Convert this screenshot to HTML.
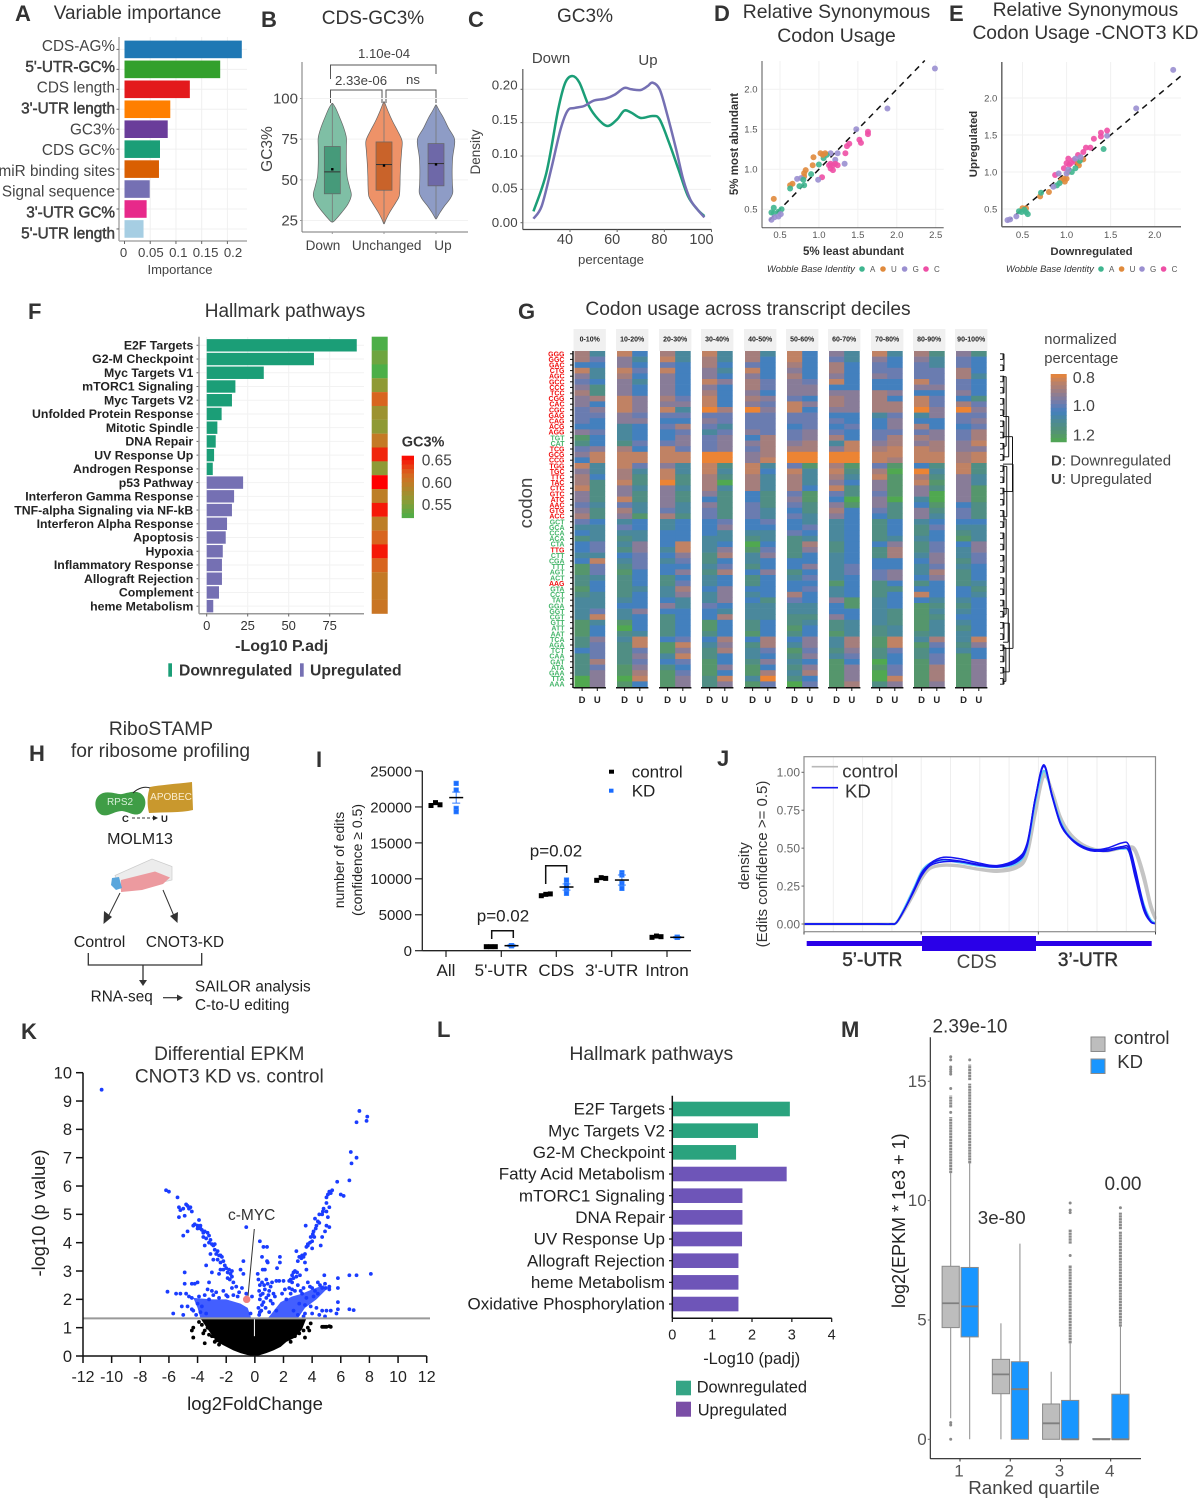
<!DOCTYPE html>
<html lang="en">
<head>
<meta charset="utf-8">
<title>CNOT3 codon usage multi-panel figure</title>
<style>
html,body{margin:0;padding:0;background:#fff;}
#figure{display:block;width:1200px;height:1501px;filter:blur(.35px);}
#figure text{font-family:"Liberation Sans",sans-serif;fill:#333;}
.letter{font-size:22px;font-weight:bold;fill:#333;}
.title{font-size:19px;fill:#444;text-anchor:middle;}
.mid{text-anchor:middle;}
.fb{stroke:#333;stroke-width:.45;}
</style>
</head>
<body>
<svg id="figure" xmlns="http://www.w3.org/2000/svg" width="1200" height="1501" viewBox="0 0 1200 1501">
<rect x="0" y="0" width="1200" height="1501" fill="#fff"/>

<g id="pA">
<text class="letter" x="15" y="21">A</text>
<text class="title" x="137.5" y="19">Variable importance</text>
<text class="mid" x="180" y="274" font-size="13" style="fill:#444">Importance</text>
</g>

<g id="pB">
<text class="letter" x="261" y="27">B</text>
<text class="title" x="373" y="24">CDS-GC3%</text>
<text class="mid" x="0" y="0" font-size="15.5" transform="translate(272,149) rotate(-90)" style="fill:#444">GC3%</text>
<text class="mid" x="384" y="58" font-size="13.2" style="fill:#444">1.10e-04</text>
<text class="mid" x="361" y="85" font-size="13.2" style="fill:#444">2.33e-06</text>
<text class="mid" x="413" y="84" font-size="13.2" style="fill:#444">ns</text>
<path d="M330.5 79V65H436V74M330.5 103V90H382V103M386 103V90H436V103" fill="none" stroke="#555" stroke-width="1"/>
</g>

<g id="pC">
<text class="letter" x="468" y="27">C</text>
<text class="title" x="585" y="22">GC3%</text>
<text class="mid" x="551" y="63" font-size="15" style="fill:#444">Down</text>
<text class="mid" x="648" y="65" font-size="15" style="fill:#444">Up</text>
<text class="mid" x="0" y="0" font-size="13.5" transform="translate(480,152) rotate(-90)" style="fill:#444">Density</text>
<text class="mid" x="611" y="264" font-size="13.2" style="fill:#444">percentage</text>
</g>

<g id="pD">
<text class="letter" x="714" y="21">D</text>
<text class="title" x="836.5" y="18" style="font-size:19.4px">Relative Synonymous</text>
<text class="title" x="836.5" y="42" style="font-size:19.4px">Codon Usage</text>
<text class="mid" x="853.5" y="255" font-size="11.5" font-weight="bold">5% least abundant</text>
<text class="mid" x="0" y="0" font-size="11.5" font-weight="bold" transform="translate(738,144) rotate(-90)">5% most abundant</text>
<text x="767" y="272" font-size="9.3" font-style="italic">Wobble Base Identity</text>
</g>

<g id="pE">
<text class="letter" x="949" y="21">E</text>
<text class="title" x="1085.5" y="16" style="font-size:19.2px">Relative Synonymous</text>
<text class="title" x="1085.5" y="39" style="font-size:19.2px">Codon Usage -CNOT3 KD</text>
<text class="mid" x="1091.5" y="255" font-size="11.4" font-weight="bold">Downregulated</text>
<text class="mid" x="0" y="0" font-size="11.4" font-weight="bold" transform="translate(977,144) rotate(-90)">Upregulated</text>
<text x="1006" y="272" font-size="9.3" font-style="italic">Wobble Base Identity</text>
</g>

<g id="pF">
<text class="letter" x="28" y="319">F</text>
<text class="title" x="285" y="317">Hallmark pathways</text>
<text class="mid" x="281.7" y="651" font-size="16" font-weight="bold">-Log10 P.adj</text>
<rect x="168.3" y="663.3" width="3.7" height="13.4" fill="#1b9e77"/>
<text x="179" y="675.7" font-size="15.7" font-weight="bold">Downregulated</text>
<rect x="300" y="663.3" width="3.7" height="13.4" fill="#7570b3"/>
<text x="310" y="675.7" font-size="15.7" font-weight="bold">Upregulated</text>
<text x="401.7" y="446.7" font-size="14.5" font-weight="bold">GC3%</text>
</g>

<g id="pG">
<text class="letter" x="518" y="319">G</text>
<text class="title" x="748" y="315" style="font-size:19.2px">Codon usage across transcript deciles</text>
<text class="mid" x="0" y="0" font-size="18.6" transform="translate(532,503) rotate(-90)" style="fill:#444">codon</text>
<text x="1044.3" y="344" font-size="14.8" style="fill:#444">normalized</text>
<text x="1044.3" y="363" font-size="14.8" style="fill:#444">percentage</text>
<text x="1051" y="465.7" font-size="15" style="fill:#444"><tspan font-weight="bold">D</tspan>: Downregulated</text>
<text x="1051" y="484" font-size="15" style="fill:#444"><tspan font-weight="bold">U</tspan>: Upregulated</text>
</g>

<g id="pH">
<text class="letter" x="29" y="761">H</text>
<text class="title" x="161" y="735" style="font-size:19.2px">RiboSTAMP</text>
<text class="title" x="160.5" y="757" style="font-size:19.2px">for ribosome profiling</text>
<path d="M103 793C111 791 118 795 122 794C128 793 134 790 140 793C147 797 147 807 141 813C135 817 130 812 122 811C114 811 109 817 102 815C94 812 92 797 103 793Z" fill="#3f9d46"/>
<text class="mid" x="120" y="805" font-size="10" style="fill:#d8f0d8">RPS2</text>
<path d="M150 787C160 785 175 784 192 782L193 810C180 813 165 812 149 813C147 805 147 795 150 787Z" fill="#c9982d"/>
<text class="mid" x="171" y="800" font-size="10" style="fill:#fbeed0">APOBEC</text>
<path d="M133 793C138 788 145 786 150 788" fill="none" stroke="#222" stroke-width="1"/>
<text x="122" y="822" font-size="9.5" font-weight="bold" style="fill:#222">C</text>
<path d="M132 818H155" stroke="#333" stroke-dasharray="3 2" fill="none"/>
<path d="M153 815.5L158 818L153 820.5Z" fill="#222"/>
<text x="161" y="822" font-size="9.5" font-weight="bold" style="fill:#222">U</text>
<text class="mid" x="140" y="844" font-size="16" style="fill:#222">MOLM13</text>
<path d="M115 875.5L152 859L172 866.5V880L122 891.5Z" fill="#ececec" stroke="#ccc" stroke-width=".7"/>
<path d="M121 880L155 871.5L170 877.5L163 884L142 890L121 892Z" fill="#ec9a9f"/>
<path d="M112 878L119 877L122 888L116 890L111 885Z" fill="#5aa6dc"/>
<path d="M120 893L108 917M163 890L174 916" stroke="#333" stroke-width="1" fill="none"/>
<path d="M103.5 924L112 917L104 911ZM177.5 923L178 912L170 916Z" fill="#333"/>
<text class="mid" x="99.5" y="947" font-size="16" style="fill:#222">Control</text>
<text class="mid" x="185" y="947" font-size="15.3" style="fill:#222">CNOT3-KD</text>
<path d="M88.3 953V965H201.7V953M143 965V982" stroke="#333" stroke-width="1.3" fill="none"/>
<path d="M139 980H147L143 986Z" fill="#333"/>
<text class="mid" x="121.7" y="1001.7" font-size="15.3" style="fill:#222">RNA-seq</text>
<path d="M163 997.7H178" stroke="#333" stroke-width="1.2" fill="none"/>
<path d="M177 994.5L183 997.7L177 1001Z" fill="#333"/>
<text x="195" y="991.7" font-size="15.3" style="fill:#222">SAILOR analysis</text>
<text x="195" y="1010" font-size="15.3" style="fill:#222">C-to-U editing</text>
</g>

<g id="pI">
<text class="letter" x="316" y="767">I</text>
<text class="mid" x="0" y="0" font-size="14" style="fill:#222" transform="translate(344,860) rotate(-90)">number of edits</text>
<text class="mid" x="0" y="0" font-size="14" style="fill:#222" transform="translate(362,860) rotate(-90)">(confidence ≥ 0.5)</text>
<text class="mid" x="503" y="921.7" font-size="17" style="fill:#222">p=0.02</text>
<text class="mid" x="556" y="856.7" font-size="17" style="fill:#222">p=0.02</text>
<path d="M491.7 939V930.7H513.3V938M545.7 884V865.7H566.7V873" fill="none" stroke="#111" stroke-width="1.5"/>
<rect x="609" y="769.7" width="5" height="4" fill="#000"/>
<text x="631.7" y="777.7" font-size="17" style="fill:#222">control</text>
<rect x="609" y="788.7" width="4.5" height="4" fill="#1a6cff"/>
<text x="631.7" y="796.7" font-size="17" style="fill:#222">KD</text>
</g>

<g id="pJ">
<text class="letter" x="717" y="766">J</text>
<text class="mid" x="0" y="0" font-size="15" style="fill:#333" transform="translate(749,866) rotate(-90)">density</text>
<text class="mid" x="0" y="0" font-size="15" style="fill:#333" transform="translate(767,864) rotate(-90)">(Edits confidence &gt;= 0.5)</text>
<rect x="806.7" y="941" width="345" height="5" fill="#2a00e8"/>
<rect x="922" y="936" width="114" height="15" fill="#2a00e8"/>
<text class="mid fb" x="872.3" y="966" font-size="19">5’-UTR</text>
<text class="mid" x="976.7" y="968" font-size="19" style="fill:#444">CDS</text>
<text class="mid fb" x="1088" y="966" font-size="19">3’-UTR</text>
</g>

<g id="pK">
<text class="letter" x="21" y="1039">K</text>
<text class="title" x="229.3" y="1060" style="font-size:19.1px">Differential EPKM</text>
<text class="title" x="229.3" y="1082.3" style="font-size:19.1px">CNOT3 KD vs. control</text>
<text class="mid" x="0" y="0" font-size="18.3" style="fill:#222" transform="translate(45,1213) rotate(-90)">-log10 (p value)</text>
<text class="mid" x="255" y="1410" font-size="18.5" style="fill:#222">log2FoldChange</text>
</g>

<g id="pL">
<text class="letter" x="437" y="1037">L</text>
<text class="title" x="651.3" y="1060" style="font-size:19.4px">Hallmark pathways</text>
<text class="mid" x="751.7" y="1364" font-size="16.3" style="fill:#222">-Log10 (padj)</text>
<rect x="676" y="1380.7" width="15" height="14.6" fill="#35a585"/>
<text x="696.7" y="1392.7" font-size="16.4" style="fill:#222">Downregulated</text>
<rect x="676" y="1401.7" width="15" height="15" fill="#7a4ea6"/>
<text x="697.7" y="1415.7" font-size="16.4" style="fill:#222">Upregulated</text>
</g>

<g id="pM">
<text class="letter" x="841" y="1037">M</text>
<text class="mid" x="970" y="1032.7" font-size="19" style="fill:#333">2.39e-10</text>
<text class="mid" x="1001.7" y="1224" font-size="18.7" style="fill:#333">3e-80</text>
<text class="mid" x="1123" y="1190" font-size="19" style="fill:#333">0.00</text>
<rect x="1091" y="1037" width="14" height="14.5" fill="#bdbdbd" stroke="#8a8a8a"/>
<text x="1114" y="1044" font-size="18.5" style="fill:#333">control</text>
<rect x="1091" y="1059" width="14" height="14.5" fill="#1996ff" stroke="#8a8a8a"/>
<text x="1117.3" y="1068" font-size="18.5" style="fill:#333">KD</text>
<text class="mid" x="0" y="0" font-size="18" style="fill:#222" transform="translate(905,1220.7) rotate(-90)">log2(EPKM * 1e3 + 1)</text>
<text class="mid" x="1034" y="1494" font-size="18.8" style="fill:#444">Ranked quartile</text>
</g>
</svg>

<script>
/* ---------- Panel A data ---------- */
const importanceLabels = ["CDS-AG%","5'-UTR-GC%","CDS length","3'-UTR length","GC3%","CDS GC%","miR binding sites","Signal sequence","3'-UTR GC%","5'-UTR length"];
const importanceValues = [0.228,0.186,0.127,0.089,0.084,0.069,0.067,0.049,0.043,0.037];
const importanceEmphasis = [0,1,0,1,0,0,0,0,1,1];
const importanceColors = ["#1f78b4","#33a02c","#e31a1c","#ff7f00","#6a3d9a","#1b9e77","#d95f02","#7570b3","#e7298a","#a6cee3"];
const importanceTicks = [0,0.05,0.1,0.15,0.2];

/* ---------- Panel B data ---------- */
const violinGroups = ["Down","Unchanged","Up"];
const violinLevelsDown = [24,25,30,35,40.5,46,52,60,70,76,82,88,94,97];
const violinDensityDown = [0.02,0.13,0.5,0.82,1,0.9,0.78,0.74,0.74,0.74,0.6,0.4,0.18,0.02];
const violinLevelsUnchanged = [23,26,30,36,40,46,52,60,68,74,80,86,92,98];
const violinDensityUnchanged = [0.02,0.12,0.3,0.62,0.8,0.84,0.85,0.88,0.93,0.95,0.72,0.45,0.22,0.02];
const violinLevelsUp = [26,30,34,38,42,48,56,64,72,76,82,88,92,96];
const violinDensityUp = [0.02,0.22,0.45,0.72,0.88,0.86,0.85,0.88,0.98,0.95,0.65,0.4,0.2,0.02];
const boxQ1 = [41.4,43.6,46.3];
const boxMedian = [54.9,59.4,60];
const boxQ3 = [70.5,73.3,72.3];
const boxMean = [56.5,58.8,59.5];
const gc3Ticks = [25,50,75,100];

/* ---------- Panel C data ---------- */
const densityDownX = [24.5,30,35,38,41,44,48,52,56,60,63,66,70,75,78,82,86,90,94,97];
const densityDownY = [0.017,0.075,0.17,0.21,0.22,0.21,0.175,0.155,0.145,0.155,0.168,0.165,0.157,0.16,0.155,0.12,0.08,0.04,0.02,0.01];
const densityUpX = [24.5,28,32,36,39,42,46,50,55,59,63,66,70,73,75,78,81,85,88,91,94,97];
const densityUpY = [0.006,0.025,0.08,0.14,0.168,0.172,0.175,0.183,0.186,0.192,0.202,0.2,0.199,0.205,0.21,0.2,0.165,0.11,0.065,0.035,0.02,0.008];
const densityXTicks = [40,60,80,100];
const densityYTicks = [0,0.05,0.1,0.15,0.2];

/* ---------- Panel D / E data ---------- */
const wobbleBases = ["A","U","G","C"];
const scatterTicksD = [0.5,1,1.5,2,2.5];
const scatterTicksDY = [0.5,1,1.5,2];
const scatterTicksE = [0.5,1,1.5,2];
const rscuLeast = [[2.49,2.26,"G"],[1.88,1.76,"G"],[1.48,1.5,"G"],[1.63,1.47,"C"],[1.63,1.44,"C"],[1.52,1.37,"C"],[1.54,1.33,"C"],[1.39,1.32,"C"],[1.36,1.29,"C"],[1.34,1.2,"C"],[1.33,1.07,"G"],[1.24,1.2,"G"],[1.15,1.2,"G"],[1.21,1.12,"G"],[1.15,1.07,"C"],[1.18,1.05,"C"],[1.21,1.07,"C"],[1.15,1.01,"C"],[1.18,0.99,"C"],[1.24,1.05,"C"],[1.13,1.05,"C"],[1.04,0.9,"C"],[0.99,0.87,"G"],[0.9,0.94,"A"],[1,1.06,"A"],[1.06,1.14,"A"],[1.1,1.18,"A"],[0.93,1.15,"U"],[1.02,1.2,"U"],[1.05,1.18,"U"],[1.08,1.2,"U"],[0.92,1.05,"U"],[0.83,0.99,"U"],[0.81,0.95,"U"],[0.81,0.91,"U"],[0.63,0.8,"U"],[0.66,0.82,"U"],[0.42,0.63,"U"],[0.72,0.88,"G"],[0.77,0.89,"G"],[0.8,0.87,"A"],[0.75,0.79,"A"],[0.81,0.8,"A"],[0.63,0.76,"A"],[0.42,0.52,"A"],[0.39,0.46,"A"],[0.42,0.45,"A"],[0.52,0.5,"A"],[0.48,0.47,"A"],[0.39,0.37,"G"],[0.43,0.4,"G"],[0.51,0.44,"G"],[0.48,0.41,"G"]];
const rscuDown = [[2.21,2.38,"G"],[1.79,1.86,"G"],[1.46,1.49,"G"],[1.42,1.31,"A"],[1.46,1.56,"C"],[1.39,1.53,"C"],[1.39,1.48,"C"],[1.31,1.45,"C"],[1.27,1.33,"C"],[1.22,1.33,"C"],[1.19,1.27,"C"],[1.13,1.23,"C"],[1.02,1.18,"C"],[1.08,1.16,"C"],[1,1.12,"C"],[1.05,1.12,"C"],[0.97,1.05,"C"],[0.87,0.96,"C"],[1.1,1.14,"C"],[1.03,1.1,"C"],[1.19,1.17,"U"],[1.13,1.12,"U"],[1.14,1.09,"U"],[0.97,0.91,"U"],[1,0.91,"U"],[0.94,0.89,"U"],[0.98,0.87,"U"],[0.8,0.73,"U"],[0.7,0.67,"U"],[0.5,0.51,"U"],[0.54,0.51,"U"],[1.02,1,"U"],[1.1,1.05,"A"],[0.92,0.85,"A"],[0.89,0.82,"A"],[0.71,0.72,"A"],[0.52,0.49,"A"],[0.49,0.46,"A"],[0.54,0.46,"A"],[0.56,0.43,"A"],[0.46,0.47,"A"],[1.15,1.15,"A"],[1.06,1.0,"A"],[0.91,0.98,"G"],[1.02,1.03,"G"],[1.1,1.18,"G"],[1.16,1.2,"G"],[0.85,0.8,"G"],[0.36,0.36,"G"],[0.43,0.4,"G"],[0.33,0.35,"G"],[1.0,0.98,"G"]];

/* ---------- Panel F data ---------- */
const hallmarkLabels = ["E2F Targets","G2-M Checkpoint","Myc Targets V1","mTORC1 Signaling","Myc Targets V2","Unfolded Protein Response","Mitotic Spindle","DNA Repair","UV Response Up","Androgen Response","p53 Pathway","Interferon Gamma Response","TNF-alpha Signaling via NF-kB","Interferon Alpha Response","Apoptosis","Hypoxia","Inflammatory Response","Allograft Rejection","Complement","heme Metabolism"];
const hallmarkValues = [91.5,65.4,34.8,17.5,15.4,9.1,6.5,5.5,4.5,3.7,22.2,16.7,15.4,12.4,11.6,9.8,9.3,9.3,7.5,4];
const hallmarkGroup = ["D","D","D","D","D","D","D","D","D","D","U","U","U","U","U","U","U","U","U","U"];
const hallmarkGC3 = [0.52,0.54,0.52,0.56,0.62,0.57,0.56,0.60,0.645,0.56,0.66,0.595,0.65,0.595,0.62,0.65,0.62,0.60,0.60,0.605];
const hallmarkTicks = [0,25,50,75];
const gc3LegendTicks = [0.65,0.60,0.55];

/* ---------- Panel G data ---------- */
const codons = ["GGG","GGC","GAC","CTG","AGC","GCC","CCC","TCC","CGG","CAC","CGC","GAG","CAG","ACG","AGG","TGT","CAT","TCG","GCG","CCG","TGG","TGC","TTC","TAC","CTC","GTC","ATC","AAC","GTG","ACC","GCT","GCA","CCA","ACA","CTA","TTG","CTT","CGA","TTT","AGT","ACT","AAG","GTA","CCT","TAT","GGA","GGT","CGT","GTT","ATT","AAT","TCA","AGA","TCT","CAA","GAT","ATA","GAA","TTA","AAA"];
const codonIsGC = [1,1,1,1,1,1,1,1,1,1,1,1,1,1,1,0,0,1,1,1,1,1,1,1,1,1,1,1,1,1,0,0,0,0,0,1,0,0,0,0,0,1,0,0,0,0,0,0,0,0,0,0,0,0,0,0,0,0,0,0];
const deciles = ["0-10%","10-20%","20-30%","30-40%","40-50%","50-60%","60-70%","70-80%","80-90%","90-100%"];
const heatDown = [
[2,2,5,1,3,4,3,2,3,3,4,4,4,5,3,8,7,4,3,5,1,3,2,2,1,3,3,4,3,2,4,6,5,7,5,5,6,5,8,8,7,7,8,7,6,6,6,6,8,8,8,7,7,5,7,7,7,7,9,9],
[1,3,3,1,2,3,3,3,1,1,1,3,3,6,6,6,7,2,1,1,1,2,2,1,3,3,1,4,2,3,6,4,6,7,6,7,5,6,7,8,7,7,7,7,6,5,6,6,8,9,7,6,7,7,7,7,8,8,9,8],
[2,1,4,1,3,3,3,3,2,3,1,4,5,4,5,5,4,1,1,1,3,1,1,0,3,3,3,3,4,2,6,6,5,5,5,6,5,6,5,5,7,7,6,6,5,3,5,7,7,7,7,5,8,8,6,5,7,8,8,8],
[1,2,2,3,3,1,3,2,1,1,0,4,3,4,6,4,4,4,0,0,1,1,2,2,2,3,5,3,4,4,5,5,5,6,6,6,7,7,6,7,6,6,5,6,6,4,5,5,8,8,7,5,6,7,7,8,8,8,7,7],
[2,2,4,1,3,2,2,3,2,3,0,4,4,4,3,5,3,4,3,3,1,1,2,2,2,5,5,4,4,4,5,5,6,7,9,8,6,6,7,5,7,7,5,6,5,6,6,6,7,7,8,5,7,6,6,7,8,8,6,8],
[1,1,2,3,2,3,3,3,4,1,1,4,4,5,4,4,3,2,0,0,4,1,2,2,2,4,3,4,5,4,5,5,4,7,7,7,7,5,5,7,6,5,5,2,4,6,6,7,7,8,7,5,6,8,7,6,7,6,7,9],
[3,4,2,2,3,1,5,3,2,2,3,5,4,5,4,2,6,3,0,0,2,1,2,3,1,4,5,3,2,3,6,6,6,6,7,7,6,6,6,6,6,8,6,6,3,5,5,3,7,7,8,6,6,7,6,8,8,8,8,8],
[1,3,4,4,3,5,5,2,2,2,2,6,5,5,4,4,3,2,1,1,4,2,1,3,3,4,3,3,4,5,7,7,7,7,5,7,7,5,5,4,4,7,7,7,6,6,6,6,6,7,7,8,8,7,7,9,8,9,9,7],
[2,3,4,4,4,1,3,5,1,1,0,6,5,2,4,2,3,1,1,1,5,0,2,1,3,3,6,5,3,3,6,7,7,6,7,7,6,5,6,6,5,7,5,1,5,8,8,8,8,8,7,6,8,7,7,8,8,8,8,8],
[3,4,4,2,2,4,4,3,5,2,0,4,4,5,4,4,3,3,2,2,1,1,3,3,3,3,3,5,4,4,5,6,7,8,5,6,6,7,6,7,7,7,5,5,6,7,6,5,6,7,6,6,7,6,8,8,8,8,8,8]
];
const heatUp = [
[6,4,5,6,6,5,7,7,2,5,3,4,5,5,4,5,5,3,1,1,6,6,5,7,7,7,7,6,7,7,5,6,6,6,4,4,6,1,4,4,6,5,5,6,6,6,4,1,6,5,5,3,4,4,4,2,4,3,3,3],
[5,6,5,4,5,6,5,5,3,3,3,4,3,5,5,5,4,5,1,1,4,6,7,7,6,7,7,6,6,8,5,5,6,6,3,3,4,4,4,5,5,5,6,5,5,5,3,5,5,5,6,1,1,4,3,4,3,2,1,5],
[6,6,5,5,5,5,5,5,4,3,6,4,5,2,4,3,3,4,1,1,6,6,7,7,6,7,7,6,6,7,5,5,5,5,1,1,3,4,5,3,5,4,2,3,6,6,5,5,5,5,5,4,1,3,1,4,5,4,3,3],
[6,6,5,6,5,3,5,5,5,5,2,4,4,6,4,3,3,3,0,0,7,6,7,9,6,7,7,7,7,7,4,3,6,6,5,3,2,5,4,2,5,5,3,3,3,5,6,2,5,5,5,2,3,2,5,5,3,5,1,3],
[6,5,5,5,5,4,4,5,3,4,3,4,4,4,4,2,2,2,2,1,6,5,6,6,6,7,7,7,6,6,4,5,6,6,5,4,3,5,5,3,5,5,5,5,7,6,6,6,5,5,5,2,2,4,5,3,5,2,0,4],
[5,5,5,5,5,4,3,3,5,3,5,4,4,4,3,3,2,2,0,0,8,6,6,6,5,8,8,7,7,6,6,4,5,6,2,3,5,5,3,5,4,5,4,5,5,6,6,7,6,5,5,3,3,4,3,5,3,2,5,4],
[6,6,5,5,5,5,5,3,3,3,3,5,5,4,5,5,1,1,0,0,8,7,6,5,7,7,9,8,5,5,5,5,5,5,5,5,5,5,4,4,5,5,5,5,8,8,5,5,6,6,6,2,2,3,4,5,3,3,3,2],
[6,5,5,4,4,5,5,3,5,2,2,4,3,3,4,2,2,1,1,2,8,9,8,8,8,8,9,7,7,7,5,5,5,6,3,2,2,5,5,3,3,5,7,5,5,5,7,7,7,6,6,1,1,4,5,5,4,4,1,3],
[7,6,6,4,4,4,3,5,4,4,3,3,5,5,3,3,2,2,1,1,7,6,7,8,7,9,9,8,7,6,5,4,5,5,4,4,3,3,4,2,3,5,5,5,6,7,6,7,6,6,6,2,4,5,4,4,2,2,2,3],
[7,5,5,5,6,5,5,5,7,4,3,4,3,4,2,2,1,3,1,1,7,7,6,6,8,8,8,7,7,7,5,6,6,6,3,3,4,4,5,5,5,6,7,6,5,5,5,5,5,5,5,1,3,5,5,3,3,3,3,3]
];
const heatLegendTicks = ["0.8","1.0","1.2"];
/* dendrogram merges: row span joined at a tree depth */
const dendroMerges = [[0.5,3.5,0.1],[4.5,7.5,0.1],[8.5,11.5,0.1],[12.5,15.5,0.1],[16.5,19.5,0.1],[20.5,23.5,0.1],[24.5,27.5,0.1],[28.5,31.5,0.1],[32.5,35.5,0.1],[36.5,39.5,0.1],[40.5,43.5,0.1],[44.5,47.5,0.1],[48.5,51.5,0.1],[52.5,55.5,0.1],[56.5,59.5,0.1],[4.6,17,0.33],[11.7,18.9,0.6],[15.3,25.1,1],[20.6,29.6,0.4],[20.2,53.1,1.05],[30,47,0.33],[46,52,0.55],[48.6,57.3,0.66],[53,59,0.3]];

/* ---------- Panel I data ---------- */
const editCategories = ["All","5'-UTR","CDS","3'-UTR","Intron"];
const editControl = [[20200,20600,20300],[560,560,560],[7650,7840,7900],[9790,10160,10060],[1860,2040,1950]];
const editKD = [[23280,22350,19800,19340],[700,700,700],[9830,9140,8440,7980],[10850,10530,9370,8670],[1860,1860,1860]];
const editKDMean = [21300,700,8860,9830,1860];
const editKDSem = [770,120,430,700,100];
const editControlMean = [20380,560,7800,10000,1950];
const editTicks = [0,5000,10000,15000,20000,25000];

/* ---------- Panel J data ---------- */
const metaPos = [0,0.62,0.74,0.79,0.86,0.94,1.006,1.077,1.19,1.33,1.476,1.647,1.818,1.903,1.974,2.046,2.117,2.188,2.259,2.359,2.473,2.587,2.715,2.772,2.829,2.9,2.957,3];
const metaControlA = [0,0,0,0.01,0.09,0.2,0.3,0.365,0.385,0.38,0.36,0.345,0.37,0.45,0.72,0.97,0.88,0.71,0.61,0.535,0.495,0.485,0.505,0.51,0.49,0.33,0.14,0.04];
const metaControlB = [0,0,0,0.01,0.1,0.21,0.31,0.37,0.39,0.385,0.365,0.355,0.385,0.47,0.75,0.99,0.88,0.7,0.6,0.53,0.49,0.48,0.5,0.505,0.47,0.29,0.11,0.03];
const metaCyan = [0,0,0,0.01,0.11,0.24,0.35,0.4,0.42,0.405,0.385,0.375,0.4,0.5,0.8,1.01,0.85,0.68,0.585,0.52,0.49,0.49,0.495,0.48,0.33,0.13,0.03,0.005];
const metaKD1 = [0,0,0,0.01,0.1,0.22,0.33,0.4,0.44,0.43,0.405,0.385,0.43,0.53,0.83,1.05,0.85,0.66,0.58,0.52,0.49,0.5,0.535,0.52,0.36,0.12,0.02,0.003];
const metaKD2 = [0,0,0,0.01,0.1,0.22,0.32,0.385,0.41,0.41,0.39,0.375,0.41,0.51,0.82,1.04,0.85,0.67,0.58,0.515,0.485,0.48,0.5,0.48,0.3,0.09,0.015,0.002];
const metaKD3 = [0,0,0,0.01,0.1,0.23,0.34,0.395,0.425,0.415,0.395,0.38,0.42,0.52,0.83,1.04,0.84,0.66,0.575,0.51,0.48,0.49,0.51,0.5,0.33,0.1,0.018,0.003];
const metaYTicks = [0,0.25,0.5,0.75,1];

/* ---------- Panel K data ---------- */
const volcanoXTicks = [-12,-10,-8,-6,-4,-2,0,2,4,6,8,10,12];
const volcanoYTicks = [0,1,2,3,4,5,6,7,8,9,10];
const volcanoThreshold = 1.33;
const volcanoBlue = [[-10.7,9.4],[-6.2,5.85],[-6,5.8],[-5.4,5.6],[-5.3,5.25],[-5,5.2],[-4.8,5.35],[-4.7,5.3],[-4.6,5.2],[-4.4,5.1],[-4.2,4.65],[-3.9,4.8],[-4,4.6],[-3.8,4.6],[-4,4.5],[-3.7,4.45],[-3.8,4.5],[-3.5,4.4],[-3.3,4.35],[-3.6,4.2],[-3.4,4.15],[-3.1,4.1],[-3.2,4],[-3,3.95],[-2.9,3.9],[-3.5,3.9],[-2.8,3.75],[-2.6,3.7],[-3.1,3.6],[-2.5,3.55],[-2.3,3.5],[-2.6,3.4],[-2.9,3.4],[-2.4,3.3],[-2.2,3.35],[-2,3.1],[-1.8,3.05],[-2.2,3.05],[-1.7,2.9],[-1.6,2.8],[-1.5,2.6],[-1.9,2.75],[-4.9,4.95],[-5.3,4.9],[-4.7,4.4],[-5,4.25],[-3.4,3.2],[-3,2.95],[-2.4,3.05],[-2.5,2.9],[-5.2,5.15],[-4.5,5.25],[-4.3,4.6],[-3.6,4.35],[-3.2,4.25],[-2.8,3.95],[-2.7,3.6],[-2.4,3.55],[-2.1,3.2],[-1.9,2.95],[-1.6,3.0],[-1.75,2.7],
[7.3,8.65],[7.85,8.45],[7.8,8.3],[7.1,8.25],[6.7,7.2],[7.1,7],[6.75,6.8],[5.75,6.15],[6.6,6.2],[5.4,5.85],[5.2,5.8],[5,5.6],[6,5.7],[6.2,5.65],[5.1,5.7],[5,5.4],[4.8,5.2],[5.2,5.25],[5,5.1],[4.7,5],[4.5,5],[5.1,4.9],[4.2,4.85],[4.5,4.7],[3.55,4.6],[4.3,4.6],[4.25,4.5],[4.1,4.4],[5,4.6],[5.2,4.55],[4.9,4.4],[4.7,4.2],[3.9,4.2],[4,4.05],[3.7,3.9],[3.6,3.85],[4,3.8],[3.5,3.6],[4.6,3.9],[3.3,3.55],[3.1,3.5],[2.9,3.7],[3.5,3.3],[3,3.35],[3.6,3.05],[2.8,3],[2.7,2.95],[2.6,2.85],[2.9,2.8],[2.4,2.65],[2,2.65],[2.6,2.6],[3.7,3.95],[4.15,4.2],[3.4,3.5],[2.7,2.75],[3.15,2.85],[3.85,4.0],[4.05,4.3],[4.4,4.75],[4.75,5.1],[5.3,5.75],[3.25,3.45],[2.95,2.95],[2.5,2.7],
[8.1,2.9],[7.1,2.85],[6.6,2.85],[5.8,2.75],[4.85,2.85],[-0.6,4.55],[0.35,4.05],[0.6,3.85],[0.85,3.85],[0.5,3.5],[0.85,3.35],[0.9,3.3],[1.75,3.5],[1.75,3.3],[0.55,3.05],[0.7,3.05],[0.2,2.9],[1.55,3.1],[-0.8,3.35],[-1,3.05],[-0.8,2.9],[-4.9,2.95],[-4.9,2.55],[-4.4,2.55],[-4,2.6],[-4.2,2.55],[-3.2,2.6],[-3,2.3],[-3.3,2.35],[-6.1,2.27],[-5.5,2.2],[-5.2,2.2],[-4.8,2.2],[-4.6,2.1],[-4.4,2.05],[-5.1,1.75],[-4.7,1.75],[-5.7,1.5],[-5,1.45],[-4.4,1.65],[-4,1.85],[-3.8,1.55],[-4.3,1.6],[5.8,1.9],[4.7,1.6],[5,1.6],[5.3,1.6],[5.8,1.65],[6.6,1.65],[6.9,1.62],[5.7,1.5],[4.9,1.4],[5.8,2.4],[5.2,2.45],[4.4,2.6],[4.9,2.55],[5.2,2.35],
[0.25,2.7],[0.35,2.5],[0.5,2.6],[0.8,2.7],[0.9,2.55],[1.2,2.6],[1.5,2.65],[1.7,2.65],[0.3,2.3],[0.55,2.2],[0.7,2.35],[1,2.3],[1.1,2.45],[1.3,2.2],[0.35,2],[0.6,1.9],[0.8,2.05],[1.1,1.95],[1.4,2.1],[1.9,2.2],[2.1,2.35],[2.4,2.4],[0.25,1.7],[0.45,1.6],[0.75,1.7],[1,1.55],[1.5,1.6],[0.3,1.45],[-0.3,1.5],[-0.2,2.1],[-0.6,2.2],[-0.9,2.4],[-1.3,2.45],[-1.1,2.25],[-1.6,2.4],[-2.2,2.3],[-2.7,2.25],[-2,2.15],[-3.5,2.15],[-3.9,2.1],[-2.5,2.05],[-3.2,2],[-1.5,2.15],[-2.9,2.15],[-1.9,2.1],[-1.2,2.1],[-3.7,1.75],[-4.1,1.45],[-3.4,1.5],[0.4,2.15],[0.65,2.5],[0.95,2.15],[1.25,1.85],[0.5,1.8],[0.35,1.55],
[3,2.5],[3.4,2.4],[3.7,2.6],[4,2.4],[4.2,2.3],[4.4,2.2],[4.7,2.4],[4.1,2.1],[3.6,2.05],[3.3,2.2],[2.8,2.3],[2.5,2.2],[2.2,2],[3.1,1.85],[3.5,1.8],[3.9,1.75],[4.3,1.7],[4,1.5],[3.5,1.5],[3,1.45],[2.7,1.6],[3.2,2.3],[2.6,2.35],[3.85,2.45],[4.55,2.5],[4.95,2.4],[3.4,1.4],[4.5,1.45]];
const volcanoBlack = [[-4.3,1],[-4.4,0.9],[-4.3,0.65],[-3.7,1.1],[-3.5,0.9],[-3.3,1],[-3.6,0.8],[-3.2,0.75],[-3.5,0.45],[-3,0.7],[-2.8,0.5],[-2.5,0.4],[-2.7,0.55],[-2.9,0.7],[-2.5,0.6],[-2.2,0.5],[-3.9,1.2],[-3.4,1.2],[3.7,1],[3.9,1.15],[3.8,0.9],[3.5,0.65],[3.4,0.9],[4.7,1.03],[4.8,1.03],[4.9,1.03],[5,1.03],[5.2,1.05],[5.3,1.03],[3.1,0.8],[2.8,0.7],[2.5,0.5]];
const denseBlueX = [-4.3,-3,-2,-1,-0.5,-0.25,-3.8,-4];
const denseBlueY = [2.05,2,2,1.85,1.7,1.33,1.33,1.7];
const denseBlueRightX = [0.9,1.8,2.6,3.3,4,4.8,5,4.3,3.5,3];
const denseBlueRightY = [1.33,1.9,2.1,2.2,2.35,2.5,2.35,2,1.7,1.33];
const denseBlackX = [-3.8,-3.3,-2.65,-2.2,-1.5,-1,-0.5,-0.1,0.3,0.8,1.3,1.8,2.2,2.8,3.3,3.6];
const denseBlackY = [1.33,0.95,0.5,0.38,0.2,0.1,0.03,0,0.02,0.1,0.2,0.32,0.5,0.65,0.95,1.33];
const cMycPoint = [-0.57,2];

/* ---------- Panel L data ---------- */
const hallmarkKDLabels = ["E2F Targets","Myc Targets V2","G2-M Checkpoint","Fatty Acid Metabolism","mTORC1 Signaling","DNA Repair","UV Response Up","Allograft Rejection","heme Metabolism","Oxidative Phosphorylation"];
const hallmarkKDValues = [2.95,2.15,1.6,2.87,1.76,1.76,1.75,1.66,1.66,1.66];
const hallmarkKDGroup = ["D","D","D","U","U","U","U","U","U","U"];
const hallmarkKDTicks = [0,1,2,3,4];

/* ---------- Panel M data ---------- */
const quartiles = [1,2,3,4];
const epkmTicks = [0,5,10,15];
const ctlQ1 = [4.68,1.91,0,0];
const ctlMed = [5.7,2.72,0.67,0];
const ctlQ3 = [7.25,3.35,1.48,0.03];
const ctlLo = [0.88,0,0,0];
const ctlHi = [11.15,4.86,2.83,0.03];
const kdQ1 = [4.29,0,0,0];
const kdMed = [5.57,2.1,0,0];
const kdQ3 = [7.2,3.25,1.63,1.89];
const kdLo = [0,0,0,0];
const kdHi = [11.56,8.2,4.02,4.72];
/* outlier dots: quartile index, group index (0 control, 1 KD), value */
const outlierDots = [[0,0,16.03],[0,0,15.9],[0,0,15.6],[0,0,15.5],[0,0,15.4],[0,0,15.3],[0,0,14.7],[0,0,13.7],[0,0,0.7],[0,0,0.6],[0,0,0],[0,1,15.9],[2,1,9.9],[2,1,9.6],[2,1,9.5],[2,1,7.7],[3,1,9.7]];
/* outlier runs too dense to separate: quartile, group, low, high */
const outlierRuns = [[0,0,11.15,13.5],[0,0,13.9,14.4],[0,1,11.56,14.9],[0,1,15.05,15.7],[2,1,4.02,7.3],[2,1,8.2,8.8],[3,1,4.72,8.7],[3,1,8.8,9.5]];

/* ---------- helpers ---------- */
const NS = 'http://www.w3.org/2000/svg';
function shape(tag, parent, name, attrs) {
  const el = document.createElementNS(NS, tag);
  
  
  for (const k in attrs) el.setAttribute(k, attrs[k]);
  parent.appendChild(el);
  return el;
}
function label(parent, name, str, x, y, size, color, anchor, extra) {
  const el = document.createElementNS(NS, 'text');
  
  
  el.setAttribute('x', x);
  el.setAttribute('y', y);
  el.setAttribute('font-size', size);
  el.setAttribute('text-anchor', anchor || 'middle');
  el.style.fill = color || '#333';
  if (extra) for (const k in extra) el.setAttribute(k, extra[k]);
  el.textContent = str;
  parent.appendChild(el);
  return el;
}
function linear(d0, d1, r0, r1) { return v => r0 + (v - d0) * (r1 - r0) / (d1 - d0); }
function seg(parent, name, x1, y1, x2, y2, stroke, w, dash) {
  const a = {x1:x1, y1:y1, x2:x2, y2:y2, stroke:stroke, 'stroke-width':w};
  if (dash) a['stroke-dasharray'] = dash;
  return shape('line', parent, name, a);
}
function smoothPath(pts) {
  let d = 'M' + pts[0][0].toFixed(2) + ' ' + pts[0][1].toFixed(2);
  for (let i = 0; i < pts.length - 1; i++) {
    const p0 = pts[Math.max(i - 1, 0)], p1 = pts[i], p2 = pts[i + 1], p3 = pts[Math.min(i + 2, pts.length - 1)];
    const c1x = p1[0] + (p2[0] - p0[0]) / 6, c1y = p1[1] + (p2[1] - p0[1]) / 6;
    const c2x = p2[0] - (p3[0] - p1[0]) / 6, c2y = p2[1] - (p3[1] - p1[1]) / 6;
    d += 'C' + c1x.toFixed(2) + ' ' + c1y.toFixed(2) + ' ' + c2x.toFixed(2) + ' ' + c2y.toFixed(2) + ' ' + p2[0].toFixed(2) + ' ' + p2[1].toFixed(2);
  }
  return d;
}
function zip(xs, ys, sx, sy) { return xs.map((v, i) => [sx(v), sy(ys[i])]); }
function polyPath(xs, ys, sx, sy) { return 'M' + xs.map((v, i) => sx(v).toFixed(2) + ' ' + sy(ys[i]).toFixed(2)).join('L') + 'Z'; }
function hex(c) { return [parseInt(c.slice(1,3),16), parseInt(c.slice(3,5),16), parseInt(c.slice(5,7),16)]; }
function ramp(stops, v) {
  if (v <= stops[0][0]) return stops[0][1];
  for (let i = 1; i < stops.length; i++) {
    if (v <= stops[i][0]) {
      const t = (v - stops[i-1][0]) / (stops[i][0] - stops[i-1][0]);
      const a = hex(stops[i-1][1]), b = hex(stops[i][1]);
      return 'rgb(' + a.map((c, k) => Math.round(c + (b[k] - c) * t)).join(',') + ')';
    }
  }
  return stops[stops.length - 1][1];
}
const g = id => document.getElementById(id);

/* ---------- Panel A ---------- */
(function () {
  const p = g('pA');
  const x = linear(0, 0.2, 124.5, 227.4);
  const rowY = i => 49.4 + 19.95 * i;
  const labelY = i => 129 + 20.8 * (i - 4);
  [0.05,0.1,0.15,0.2].forEach(t => seg(p, 'grid-vertical', x(t), 37, x(t), 241, '#f0f0f0', 1));
  importanceValues.forEach((v, i) => seg(p, 'grid-horizontal', 119, rowY(i), 247, rowY(i), '#f0f0f0', 1));
  seg(p, 'y-axis-line', 119, 37, 119, 241, '#aaa', 1.5);
  seg(p, 'x-axis-line', 119, 241, 247, 241, '#aaa', 1.5);
  importanceValues.forEach((v, i) => {
    shape('rect', p, 'importance-bar', {x:x(0), y:rowY(i) - 8.8, width:x(v) - x(0), height:17.6, fill:importanceColors[i]});
    seg(p, 'y-tick', 116.5, rowY(i), 119, rowY(i), '#666', 1);
    const t = label(p, 'importance-label', importanceLabels[i], 115, labelY(i) + 5.3, 15.3, '#444', 'end');
    if (importanceEmphasis[i]) t.setAttribute('class', 'fb');
  });
  importanceTicks.forEach(t => {
    seg(p, 'x-tick', x(t), 241, x(t), 244, '#666', 1);
    label(p, 'x-tick-label', String(t), x(t) + t * 33 - 1, 257, 13.2, '#444');
  });
})();

/* ---------- Panel B ---------- */
(function () {
  const p = g('pB');
  const y = linear(25, 100, 220.5, 98.5);
  const centers = [332.3, 384, 436];
  const nameX = [323, 386.7, 443];
  const fills = ['#7fbfa5','#ee9268','#8e9cc6'];
  const boxFills = ['#469a7a','#c9632a','#6e68a8'];
  const levels = [violinLevelsDown, violinLevelsUnchanged, violinLevelsUp];
  const dens = [violinDensityDown, violinDensityUnchanged, violinDensityUp];
  gc3Ticks.forEach(t => seg(p, 'grid-horizontal', 302, y(t), 468, y(t), '#f2f2f2', 1));
  seg(p, 'y-axis-line', 302, 62, 302, 232, '#777', 1);
  seg(p, 'x-axis-line', 302, 232, 468, 232, '#777', 1);
  gc3Ticks.forEach(t => {
    seg(p, 'y-tick', 300, y(t), 302, y(t), '#999', 1);
    label(p, 'y-tick-label', String(t), 298, y(t) + 5, 15, '#444', 'end');
  });
  violinGroups.forEach((name, i) => {
    const c = centers[i];
    const right = levels[i].map((v, k) => [c + dens[i][k] * 19, y(v)]);
    const left = levels[i].map((v, k) => [c - dens[i][k] * 19, y(v)]).reverse();
    const d = smoothPath(right) + smoothPath(left).replace('M', 'L') + 'Z';
    shape('path', p, 'violin-' + name.toLowerCase(), {d:d, fill:fills[i], stroke:'#666', 'stroke-width':0.7});
    seg(p, 'violin-center-line', c, y(levels[i][0]), c, y(levels[i][levels[i].length - 1]), '#777', 0.8);
    shape('rect', p, 'box-' + name.toLowerCase(), {x:c - 8, y:y(boxQ3[i]), width:16, height:y(boxQ1[i]) - y(boxQ3[i]), fill:boxFills[i], stroke:'#666', 'stroke-width':0.7});
    seg(p, 'box-median', c - 8, y(boxMedian[i]), c + 8, y(boxMedian[i]), '#333', 1);
    shape('rect', p, 'mean-dot', {x:c - 1.2, y:y(boxMean[i]) - 1.2, width:2.4, height:2.4, fill:'#000'});
    seg(p, 'x-tick', c, 232, c, 234, '#999', 1);
    label(p, 'x-tick-label', name, nameX[i], 250, 13.6, '#444');
  });
})();

/* ---------- Panel C ---------- */
(function () {
  const p = g('pC');
  const x = linear(40, 100, 570, 711.5);
  const y = linear(0, 0.2, 222.7, 89.3);
  densityYTicks.forEach(t => seg(p, 'grid-horizontal', 523, y(t), 711, y(t), '#efefef', 1));
  shape('path', p, 'density-curve-down', {d:smoothPath(zip(densityDownX, densityDownY, x, y)), fill:'none', stroke:'#1b9e77', 'stroke-width':2.5});
  shape('path', p, 'density-curve-up', {d:smoothPath(zip(densityUpX, densityUpY, x, y)), fill:'none', stroke:'#7570b3', 'stroke-width':2.5});
  seg(p, 'y-axis-line', 522.8, 69, 522.8, 229.5, '#666', 1.3);
  seg(p, 'x-axis-line', 522.8, 229.5, 711.5, 229.5, '#444', 1.3);
  densityYTicks.forEach(t => {
    seg(p, 'y-tick', 520.5, y(t), 522.8, y(t), '#666', 1);
    label(p, 'y-tick-label', t.toFixed(2), 517.6, y(t) + (0.2 - t) * 22, 13.3, '#444', 'end');
  });
  densityXTicks.forEach(t => {
    seg(p, 'x-tick', x(t), 229.5, x(t), 232, '#666', 1);
    label(p, 'x-tick-label', String(t), x(t) - (t === 100 ? 10 : 5), 244, 14.5, '#444');
  });
})();

/* ---------- Panels D, E ---------- */
const wobbleColors = {A:'#3fb58f', U:'#e08a3c', G:'#9a8fd0', C:'#ee4fa5'};
function scatterPanel(p, pts, sx, sy, box, xt, yt, lineFrom, lineTo, legendX, axisColor, axisW) {
  xt.forEach(t => seg(p, 'grid-vertical', sx(t), box[1], sx(t), box[3], '#f1f1f1', 1));
  yt.forEach(t => seg(p, 'grid-horizontal', box[0], sy(t), box[2], sy(t), '#f1f1f1', 1));
  seg(p, 'y-axis-line', box[0], box[1], box[0], box[3], axisColor, axisW);
  seg(p, 'x-axis-line', box[0], box[3], box[2], box[3], axisColor, axisW);
  seg(p, 'identity-line', sx(lineFrom), sy(lineFrom), sx(lineTo), sy(lineTo), '#111', 1.5, '6 5');
  pts.forEach(d => {
    shape('circle', p, 'codon-point-' + d[2].toLowerCase(), {cx:sx(d[0]), cy:sy(d[1]), r:3, fill:wobbleColors[d[2]], 'fill-opacity':0.9});
  });
  xt.forEach(t => label(p, 'x-tick-label', t.toFixed(1), sx(t), 238, 9.5, '#555'));
  yt.forEach(t => label(p, 'y-tick-label', t.toFixed(1), box[0] - 4.5, sy(t) + 3.3, 9.5, '#555', 'end'));
  wobbleBases.forEach((b, i) => {
    shape('circle', p, 'legend-dot-' + b.toLowerCase(), {cx:legendX[i], cy:269, r:2.8, fill:wobbleColors[b]});
    label(p, 'legend-label-' + b.toLowerCase(), b, legendX[i] + 8, 272, 8, '#555', 'start');
  });
}
scatterPanel(g('pD'), rscuLeast, linear(0.5, 2.5, 780, 935.7), linear(0.5, 2, 209.3, 89.3), [762,61,943.7,227.7], scatterTicksD, scatterTicksDY, 0.36, 2.36, [862,883,904.6,926], '#555', 1);
scatterPanel(g('pE'), rscuDown, linear(0.5, 2, 1022.5, 1154.7), linear(0.5, 2, 209, 98), [1001.8,62,1181,226.7], scatterTicksE, scatterTicksE, 0.33, 2.31, [1101,1121.6,1142,1163.6], '#666', 1.5);

/* ---------- Panel F ---------- */
(function () {
  const p = g('pF');
  const x = linear(0, 75, 206.7, 329.7);
  const rowY = i => 345.3 + 13.73 * i;
  const gcStops = [[0.52,'#4caf48'],[0.56,'#8f9a35'],[0.6,'#c47a25'],[0.62,'#d8651f'],[0.66,'#ff0000']];
  hallmarkLabels.forEach((s, i) => seg(p, 'grid-horizontal', 199, rowY(i), 364, rowY(i), '#f2f2f2', 1));
  hallmarkTicks.forEach(t => seg(p, 'grid-vertical', x(t), 337, x(t), 613, '#f2f2f2', 1));
  hallmarkLabels.forEach((s, i) => {
    shape('rect', p, 'hallmark-bar', {x:x(0), y:rowY(i) - 6.2, width:x(hallmarkValues[i]) - x(0), height:12.4, fill:hallmarkGroup[i] === 'D' ? '#1b9e77' : '#7570b3'});
    seg(p, 'y-tick', 196.5, rowY(i), 199, rowY(i), '#666', 1);
    label(p, 'hallmark-label', s, 193.3, rowY(i) + 4.2, 12.3, '#222', 'end', {'font-weight':'bold'});
    shape('rect', p, 'gc3-strip-cell', {x:371.7, y:336.7 + 13.85 * i, width:16, height:13.95, fill:ramp(gcStops, hallmarkGC3[i])});
  });
  seg(p, 'y-axis-line', 199, 336.7, 199, 613.7, '#999', 1.5);
  seg(p, 'x-axis-line', 199, 613.7, 364, 613.7, '#999', 1.5);
  hallmarkTicks.forEach(t => {
    seg(p, 'x-tick', x(t), 613.7, x(t), 616.5, '#666', 1);
    label(p, 'x-tick-label', String(t), x(t), 630, 13, '#333');
  });
  const legendY = linear(0.66, 0.52, 455.7, 517.7);
  for (let v = 0.66; v > 0.52; v -= 0.01) {
    shape('rect', p, 'gc3-legend-step', {x:401.7, y:legendY(v), width:12.3, height:legendY(v - 0.01) - legendY(v) + 0.4, fill:ramp(gcStops, v - 0.005)});
  }
  gc3LegendTicks.forEach(t => label(p, 'gc3-legend-tick', t.toFixed(2), 421.7, legendY(t) + 5.5, 15.5, '#444', 'start'));
})();

/* ---------- Panel G ---------- */
(function () {
  const p = g('pG');
  const top = 351, rowH = 5.6;
  const rowY = i => top + rowH * i;
  const lefts = [574.5,617,660,702,745,787,829,872,914,956];
  const w = 15.2;
  const heatStops = [[0,'#ec8434'],[1,'#c08264'],[2,'#a57e7c'],[3,'#887c98'],[4,'#6a7cb0'],[5,'#4380be'],[6,'#4a889c'],[7,'#508e84'],[8,'#55966c'],[9,'#50a850']];
  deciles.forEach((d, c) => {
    const x0 = lefts[c];
    shape('rect', p, 'decile-header', {x:x0 - 1, y:329, width:2 * w + 2, height:22, fill:'#f0f0f0'});
    label(p, 'decile-label', d, x0 + w, 341.7, 7, '#222', 'middle', {'font-weight':'bold'});
    [heatDown, heatUp].forEach((m, s) => {
      codons.forEach((cd, r) => {
        const v = m[c][r];
        shape('rect', p, 'heat-cell', {x:x0 + s * w, y:rowY(r), width:w + 0.3, height:rowH + 0.3, fill:ramp(heatStops, v)});
      });
      const cx = x0 + s * w + w / 2;
      seg(p, 'x-tick', cx, 687.7, cx, 691, '#111', 1);
      label(p, s ? 'tick-label-u' : 'tick-label-d', s ? 'U' : 'D', cx, 703, 9.5, '#222', 'middle', {'font-weight':'bold'});
    });
    seg(p, 'decile-axis', x0 - 1, 687.7, x0 + 2 * w + 1, 687.7, '#111', 1.5);
  });
  seg(p, 'codon-axis-line', 573, 351, 573, 688, '#111', 1.5);
  codons.forEach((cd, r) => {
    const yy = rowY(r) + rowH / 2;
    seg(p, 'codon-tick', 570, yy, 573, yy, '#111', 1);
    label(p, 'codon-label', cd, 564.5, yy + 2.5, 7, codonIsGC[r] ? '#f01010' : '#45b56a', 'end', {'font-weight':'bold'});
    seg(p, 'dendrogram-leaf', 1000, yy, 1003, yy, '#111', 0.9);
    if (r % 2 === 0 && r < 59) seg(p, 'dendrogram-pair', 1003, yy, 1003, yy + rowH, '#111', 0.9);
  });
  dendroMerges.forEach(m => {
    const ya = rowY(m[0]), yb = rowY(m[1]), xx = 1003 + m[2] * 9.5;
    seg(p, 'dendrogram-merge', xx, ya, xx, yb, '#111', 1);
    seg(p, 'dendrogram-branch', 1003, ya, xx, ya, '#111', 0.9);
    seg(p, 'dendrogram-branch', 1003, yb, xx, yb, '#111', 0.9);
  });
  const legendY = linear(0.8, 1.2, 374, 441.7);
  for (let v = 0; v < 9; v += 0.5) {
    const yy = legendY(0.8 + v * 0.4 / 9);
    shape('rect', p, 'heat-legend-step', {x:1050.7, y:yy, width:16, height:4.3, fill:ramp(heatStops, v + 0.25)});
  }
  heatLegendTicks.forEach((t, i) => label(p, 'heat-legend-tick', t, 1072.7, [383,411,440.7][i], 16, '#444', 'start'));
})();

/* ---------- Panel I ---------- */
(function () {
  const p = g('pI');
  const y = linear(0, 25000, 950.7, 771);
  const cats = [446,501.3,556.3,611.7,667];
  seg(p, 'y-axis-line', 422.3, 771, 422.3, 950.7, '#222', 1.3);
  seg(p, 'x-axis-line', 422.3, 950.7, 691, 950.7, '#222', 1.3);
  editTicks.forEach(t => {
    seg(p, 'y-tick', 415, y(t), 422.3, y(t), '#222', 1.2);
    label(p, 'y-tick-label', String(t), 412, y(t) + 5.4, 15, '#222', 'end');
  });
  editCategories.forEach((c, i) => {
    const cx = cats[i];
    seg(p, 'x-tick', cx, 950.7, cx, 957, '#222', 1.2);
    label(p, 'x-tick-label', c, cx, 976, 17, '#222');
    editControl[i].forEach((v, k) => {
      shape('rect', p, 'control-point', {x:cx - 10.5 + (k - 1) * 4.5 - 2.5, y:y(v) - 2.5, width:5, height:5, fill:'#000'});
    });
    seg(p, 'control-mean', cx - 17, y(editControlMean[i]), cx - 4, y(editControlMean[i]), '#000', 1.5);
    const kx = cx + 10.2;
    editKD[i].forEach(v => {
      shape('rect', p, 'kd-point', {x:kx - 2.3, y:y(v) - 2.3, width:4.6, height:4.6, fill:'#1a6cff', stroke:'#3d8bff', 'stroke-width':0.6});
    });
    const m = editKDMean[i], e = editKDSem[i];
    seg(p, 'kd-error-bar', kx, y(m + e), kx, y(m - e), '#2f7bff', 1);
    seg(p, 'kd-error-cap', kx - 4, y(m + e), kx + 4, y(m + e), '#2f7bff', 1);
    seg(p, 'kd-error-cap', kx - 4, y(m - e), kx + 4, y(m - e), '#2f7bff', 1);
    seg(p, 'kd-mean', kx - 7, y(m), kx + 7, y(m), '#000', 1.5);
  });
})();

/* ---------- Panel J ---------- */
(function () {
  const p = g('pJ');
  const x = linear(0, 3, 804, 1155.5);
  const y = linear(0, 1, 924, 772.3);
  for (let k = 1; k < 12; k++) seg(p, 'grid-vertical', 804 + k * 29.3, 757, 804 + k * 29.3, 931, '#eeeeee', 1);
  const series = [[metaControlA,'#c4c4c4',2.6],[metaControlB,'#c4c4c4',2.6],[metaCyan,'#5fd0f5',2],[metaKD1,'#1414f0',1.5],[metaKD2,'#1414f0',1.5],[metaKD3,'#1414f0',1.5]];
  series.forEach(s => {
    shape('path', p, 'metagene-curve', {d:smoothPath(zip(metaPos, s[0], x, y)), fill:'none', stroke:s[1], 'stroke-width':s[2]});
  });
  shape('rect', p, 'plot-frame', {x:804, y:756.7, width:351.5, height:175, fill:'none', stroke:'#8d8d8d', 'stroke-width':1.2});
  metaYTicks.forEach(t => {
    seg(p, 'y-tick', 801.5, y(t), 804, y(t), '#666', 1);
    label(p, 'y-tick-label', t.toFixed(2), 800, y(t) + 4.3, 12, '#666', 'end');
  });
  [0,1,2,3].forEach(t => seg(p, 'x-tick', x(t), 931.7, x(t), 934.5, '#444', 1));
  seg(p, 'legend-line-control', 811.7, 766.7, 838, 766.7, '#b8b8b8', 1.6);
  label(p, 'legend-label-control', 'control', 842.3, 777.3, 18.6, '#333', 'start');
  seg(p, 'legend-line-kd', 811.7, 787.7, 838, 787.7, '#1414f0', 1.6);
  label(p, 'legend-label-kd', 'KD', 845, 797.3, 18.6, '#333', 'start');
})();

/* ---------- Panel K ---------- */
(function () {
  const p = g('pK');
  const x = linear(-12, 12, 83, 426.7);
  const y = linear(0, 10, 1356, 1072.7);
  shape('path', p, 'dense-nonsignificant-genes', {d:polyPath(denseBlackX, denseBlackY, x, y), fill:'#000'});
  volcanoBlack.forEach(d => shape('circle', p, 'nonsignificant-gene', {cx:x(d[0]), cy:y(d[1]), r:1.9, fill:'#000'}));
  seg(p, 'zero-fold-gap', x(-0.03), y(1.3), x(-0.03), y(0.7), '#fff', 1);
  shape('path', p, 'dense-significant-down-genes', {d:polyPath(denseBlueX, denseBlueY, x, y), fill:'#1a3cff', 'fill-opacity':0.82});
  shape('path', p, 'dense-significant-up-genes', {d:polyPath(denseBlueRightX, denseBlueRightY, x, y), fill:'#1a3cff', 'fill-opacity':0.82});
  volcanoBlue.forEach(d => shape('circle', p, 'significant-gene', {cx:x(d[0]), cy:y(d[1]), r:1.9, fill:'#1a3cff'}));
  seg(p, 'significance-threshold', x(-12), y(volcanoThreshold), 430, y(volcanoThreshold), '#999', 2);
  seg(p, 'y-axis-line', 83, 1072.7, 83, 1356, '#111', 1.5);
  seg(p, 'x-axis-line', 83, 1356, 426.7, 1356, '#111', 1.5);
  volcanoYTicks.forEach(t => {
    seg(p, 'y-tick', 76, y(t), 83, y(t), '#111', 1.5);
    label(p, 'y-tick-label', String(t), 72, y(t) + 5.8, 16.5, '#222', 'end');
  });
  volcanoXTicks.forEach(t => {
    seg(p, 'x-tick', x(t), 1356, x(t), 1363, '#111', 1.5);
    label(p, 'x-tick-label', String(t), x(t), 1382, 16, '#222');
  });
  seg(p, 'c-myc-leader', 254.3, 1229, x(cMycPoint[0]) + 1.3, y(cMycPoint[1]) - 3, '#333', 1);
  shape('circle', p, 'c-myc-point', {cx:x(cMycPoint[0]), cy:y(cMycPoint[1]), r:3.7, fill:'#f08080'});
  label(p, 'c-myc-label', 'c-MYC', 251.7, 1220, 15.5, '#333');
})();

/* ---------- Panel L ---------- */
(function () {
  const p = g('pL');
  const x = linear(0, 4, 672.3, 831.7);
  const rowY = i => 1109 + 21.67 * i;
  hallmarkKDLabels.forEach((s, i) => {
    shape('rect', p, 'hallmark-kd-bar', {x:x(0), y:rowY(i) - 7.3, width:x(hallmarkKDValues[i]) - x(0), height:14.6, fill:hallmarkKDGroup[i] === 'D' ? '#2aa37e' : '#6e55b8'});
    seg(p, 'y-tick', 669, rowY(i), 672.3, rowY(i), '#111', 1.2);
    label(p, 'hallmark-kd-label', s, 665, rowY(i) + 5.6, 17, '#222', 'end');
  });
  seg(p, 'y-axis-line', 672.3, 1095.7, 672.3, 1318.3, '#111', 1.5);
  seg(p, 'x-axis-line', 672.3, 1318.3, 831.7, 1318.3, '#111', 1.5);
  hallmarkKDTicks.forEach(t => {
    seg(p, 'x-tick', x(t), 1318.3, x(t), 1322, '#111', 1.2);
    label(p, 'x-tick-label', String(t), x(t), 1339.3, 14.5, '#222');
  });
})();

/* ---------- Panel M ---------- */
(function () {
  const p = g('pM');
  const y = linear(0, 15, 1439.3, 1081.3);
  const x = linear(1, 4, 960, 1110.7);
  const offs = [-9.3, 9.7];
  const fills = ['#bdbdbd', '#1996ff'];
  const stats = [[ctlQ1,ctlMed,ctlQ3,ctlLo,ctlHi],[kdQ1,kdMed,kdQ3,kdLo,kdHi]];
  outlierRuns.forEach(r => {
    const cx = x(quartiles[r[0]]) + offs[r[1]];
    seg(p, 'outlier-run', cx, y(r[2]), cx, y(r[3]), '#8a8a8a', 3, '2.4 0.5');
  });
  outlierDots.forEach(d => {
    shape('circle', p, 'outlier-point', {cx:x(quartiles[d[0]]) + offs[d[1]], cy:y(d[2]), r:1.5, fill:'#8a8a8a'});
  });
  quartiles.forEach((q, i) => {
    stats.forEach((s, k) => {
      const cx = x(q) + offs[k];
      seg(p, 'box-whisker', cx, y(s[4][i]), cx, y(s[3][i]), '#8a8a8a', 1);
      shape('rect', p, 'expression-box', {x:cx - 8.6, y:y(s[2][i]), width:17.2, height:Math.max(y(s[0][i]) - y(s[2][i]), 0.4), fill:fills[k], stroke:'#8a8a8a', 'stroke-width':1});
      seg(p, 'box-median', cx - 8.6, y(s[1][i]), cx + 8.6, y(s[1][i]), '#7f7f7f', 1.8);
    });
    seg(p, 'x-tick', x(q), 1458.7, x(q), 1461.5, '#333', 1);
    label(p, 'x-tick-label', String(q), x(q) - 1, 1476.7, 17, '#555');
  });
  seg(p, 'y-axis-line', 930.3, 1037.3, 930.3, 1458.7, '#222', 1.1);
  seg(p, 'x-axis-line', 930.3, 1458.7, 1141, 1458.7, '#222', 1.1);
  epkmTicks.forEach(t => {
    seg(p, 'y-tick', 927.8, y(t), 930.3, y(t), '#666', 1);
    label(p, 'y-tick-label', String(t), 926.7, y(t) + 5.6, 17, '#555', 'end');
  });
})();
</script>
</body>
</html>
